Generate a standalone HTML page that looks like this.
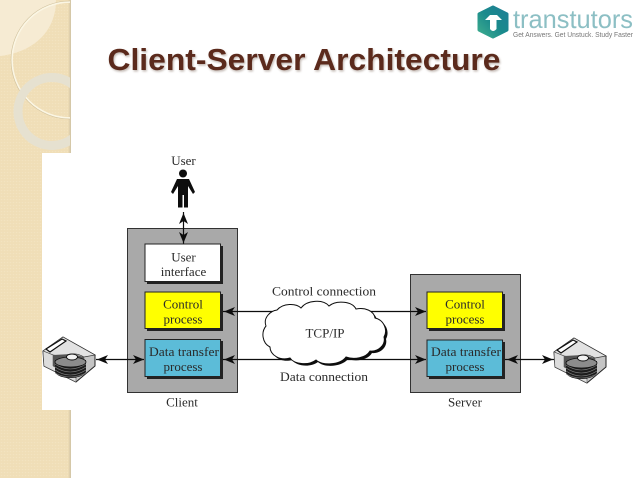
<!DOCTYPE html>
<html><head><meta charset="utf-8"><style>
html,body{margin:0;padding:0;background:#fff}
svg{display:block}
</style></head><body>
<svg xmlns="http://www.w3.org/2000/svg" width="638" height="478" viewBox="0 0 638 478">
<defs>
<linearGradient id="sh" x1="0" x2="1"><stop offset="0" stop-color="#f1deb6"/><stop offset="1" stop-color="#cfc3a5"/></linearGradient>
<linearGradient id="hex" x1="0" y1="1" x2="1" y2="0"><stop offset="0" stop-color="#3fae8e"/><stop offset=".5" stop-color="#1a8a8c"/><stop offset="1" stop-color="#1f7f96"/></linearGradient>
<pattern id="dots" width="3" height="3" patternUnits="userSpaceOnUse"><rect width="3" height="3" fill="#f0deb7"/><circle cx="1.500" cy="1.500" r=".8" fill="#f3e3c0"/></pattern>
<clipPath id="band"><rect x="0" y="0" width="70" height="153"/></clipPath>
<filter id="b" x="-10%" y="-50%" width="120%" height="200%"><feGaussianBlur stdDeviation="1"/></filter>
<filter id="s"><feGaussianBlur stdDeviation=".35"/></filter>
<g id="disk">
<path d="M0 14 L20 0 L52 18 L52 29 L33 45 L1 29Z" fill="#c4c4c4" stroke="#222" stroke-width="1" stroke-linejoin="round"/>
<path d="M0 14 L20 0 L52 18 L41 20 Q34 16 29 17 Q24 17 20 20 L10 18Z" fill="#e2e2e2" stroke="#333" stroke-width=".7"/>
<path d="M3 12 L19 2 L23 4 L7 15Z" fill="#fff" stroke="#111" stroke-width="1.200"/>
<path d="M1 29 L33 45 L33 41 L10 29 L10 18 L0 14Z" fill="#dcdcdc" stroke="#444" stroke-width=".5"/>
<path d="M10 18 L10 29 L33 41 L43 32 L41 20 L29 17Z" fill="#555"/>
<path d="M12 23 H43 V34 C43 38 35 41 27 41 C19 41 12 38 12 34Z" fill="#1c1c1c"/>
<path d="M12 27 Q27 37 43 27 M12 30 Q27 40 43 30 M12 33 Q27 43 43 33 M12 36 Q27 44 43 36" stroke="#8a8a8a" stroke-width=".6" fill="none"/>
<ellipse cx="27.500" cy="25" rx="15.500" ry="5" fill="#8c8c8c" stroke="#111" stroke-width=".8"/>
<ellipse cx="29" cy="20" rx="5.500" ry="3" fill="#f2f2f2" stroke="#111" stroke-width=".9"/>
</g>
</defs>

<rect x="0" y="0" width="70" height="478" fill="url(#dots)"/>
<rect x="68" y="0" width="3" height="153" fill="url(#sh)"/>
<rect x="68" y="410" width="3" height="68" fill="url(#sh)"/>
<rect x="42" y="153" width="29" height="257" fill="#fff"/>
<g clip-path="url(#band)">
<path d="M0 0 H56 C56 30 35 52 0 56Z" fill="#f6ebd3"/>
<circle cx="70" cy="60" r="58" fill="none" stroke="#fbf6e4" stroke-width="1.800"/>
<circle cx="70" cy="60" r="59" fill="none" stroke="#cfc09c" stroke-width=".6"/>
<circle cx="52" cy="111.500" r="34" fill="none" stroke="#e6e1d0" stroke-width="9"/>
</g>

<!-- logo -->
<path d="M493 7 L507 14 L507 30 L493 37 L479 30 L479 14Z" fill="url(#hex)" stroke="url(#hex)" stroke-width="3" stroke-linejoin="round"/>
<path d="M485 20 L490 15 H497 L502 20 H496.500 V29 Q493 33 490 29 V20Z" fill="#fff"/>
<text x="513" y="28" font-family="Liberation Sans, sans-serif" font-size="26" fill="#8cbfc4" textLength="120" lengthAdjust="spacingAndGlyphs">transtutors</text>
<text x="513" y="37" font-family="Liberation Sans, sans-serif" font-size="7" fill="#777" textLength="120" lengthAdjust="spacingAndGlyphs">Get Answers. Get Unstuck. Study Faster</text>

<!-- title -->
<text x="107.500" y="70" font-family="Liberation Sans, sans-serif" font-weight="bold" font-size="31" fill="#9a8a80" opacity=".6" textLength="393" lengthAdjust="spacingAndGlyphs" filter="url(#b)" transform="translate(1 1.500)">Client-Server Architecture</text>
<text x="107.500" y="70" font-family="Liberation Sans, sans-serif" font-weight="bold" font-size="31" fill="#5b2a1c" textLength="393" lengthAdjust="spacingAndGlyphs">Client-Server Architecture</text>

<g filter="url(#s)">
<!-- containers -->
<rect x="127.500" y="228.500" width="110" height="164" fill="#a9a9a9" stroke="#333" stroke-width="1"/>
<rect x="410.500" y="274.500" width="110" height="118" fill="#a9a9a9" stroke="#333" stroke-width="1"/>

<!-- connectors -->
<g stroke="#111" stroke-width="1.200" fill="none">
<path d="M222 311.500H426M222 359.500H426M96 359.500H144M504 359.500H554M183.500 212V244"/>
</g>
<g fill="#111">
<path d="M224 311.500l11-4.500-3 4.500 3 4.500zM426 311.500l-11-4.500 3 4.500-3 4.500zM224 359.500l11-4.500-3 4.500 3 4.500zM426 359.500l-11-4.500 3 4.500-3 4.500z"/>
<path d="M97 359.500l11-4.500-3 4.500 3 4.500zM144 359.500l-11-4.500 3 4.500-3 4.500zM507 359.500l11-4.500-3 4.500 3 4.500zM553 359.500l-11-4.500 3 4.500-3 4.500z"/>
<path d="M183.500 213l-4.500 11 4.500-3 4.500 3zM183.500 243l-4.500-11 4.500 3 4.500-3z"/>
</g>

<!-- boxes -->
<g stroke="#222" stroke-width="1">
<rect x="147" y="246" width="76" height="38" fill="#222" stroke="none"/>
<rect x="147" y="294" width="76" height="37" fill="#222" stroke="none"/>
<rect x="147" y="341" width="76" height="38" fill="#222" stroke="none"/>
<rect x="429" y="294" width="76" height="37" fill="#222" stroke="none"/>
<rect x="429" y="342" width="76" height="37" fill="#222" stroke="none"/>
<rect x="145" y="244" width="75.500" height="37.500" fill="#fff"/>
<rect x="145" y="292" width="75.500" height="36.500" fill="#ffff00"/>
<rect x="145" y="339.500" width="75.500" height="37" fill="#5bbcd8"/>
<rect x="427" y="292" width="75.500" height="36.500" fill="#ffff00"/>
<rect x="427" y="340" width="75.500" height="36.500" fill="#5bbcd8"/>
</g>

<!-- cloud -->
<path transform="translate(2 2)" d="M277 310 C283 303 296 303 301 308 C307 300 323 299 329 306 C336 300 352 301 356 309 C365 307 374 311 375 318 C384 320 388 330 384 337 C386 345 378 352 370 351 C366 358 354 360 346 357 C340 365 322 366 316 360 C308 366 294 364 290 358 C280 361 270 355 270 347 C262 343 261 332 266 326 C263 318 270 311 277 310Z" fill="#111"/>
<path d="M277 310 C283 303 296 303 301 308 C307 300 323 299 329 306 C336 300 352 301 356 309 C365 307 374 311 375 318 C384 320 388 330 384 337 C386 345 378 352 370 351 C366 358 354 360 346 357 C340 365 322 366 316 360 C308 366 294 364 290 358 C280 361 270 355 270 347 C262 343 261 332 266 326 C263 318 270 311 277 310Z" fill="#fff" stroke="#111" stroke-width="1"/>

<!-- person -->
<g fill="#111">
<circle cx="183" cy="173.500" r="4"/>
<path d="M177 179 H189 L195 192 L193 194 L188 186 V207.500 H184 V195 H182.500 V207.500 H178 V186 L173 194 L171 192Z"/>
</g>

<!-- disks -->
<use href="#disk" x="43" y="337"/>
<use href="#disk" x="554" y="338"/>
</g>

<!-- labels -->
<g font-family="Liberation Serif, serif" font-size="13" fill="#2a2a2a" text-anchor="middle">
<text x="183.500" y="165">User</text>
<text x="183.500" y="261.500">User</text>
<text x="183.500" y="276">interface</text>
<text x="183" y="308.500">Control</text>
<text x="183" y="323.500">process</text>
<text x="184" y="356" textLength="70" lengthAdjust="spacingAndGlyphs">Data transfer</text>
<text x="183" y="371">process</text>
<text x="182" y="406.500">Client</text>
<text x="465" y="308.500">Control</text>
<text x="465" y="323.500">process</text>
<text x="466" y="356" textLength="70" lengthAdjust="spacingAndGlyphs">Data transfer</text>
<text x="465" y="371">process</text>
<text x="465" y="406.500">Server</text>
<text x="324" y="295.500" textLength="104" lengthAdjust="spacingAndGlyphs">Control connection</text>
<text x="324" y="381" textLength="88" lengthAdjust="spacingAndGlyphs">Data connection</text>
<text x="325" y="337.500">TCP/IP</text>
</g>
</svg>
</body></html>
